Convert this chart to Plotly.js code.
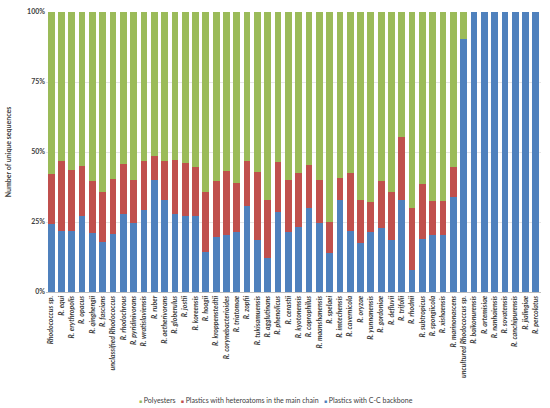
<!DOCTYPE html>
<html>
<head>
<meta charset="utf-8">
<script src="https://cdn.plot.ly/plotly-3.0.1.min.js"></script>
<style>
  html, body { margin: 0; padding: 0; background: #fff; }
  #chart { width: 550px; height: 408px; }
</style>
</head>
<body>
<div id="chart"></div>
<script>
// species, left to right
const SPECIES = [
  'Rhodococcus sp.', 'R. equi', 'R. erythropolis', 'R. opacus', 'R. qinghengii',
  'R. fascians', 'unclassified Rhodococcus', 'R. rhodochrous', 'R. pyridinivorans',
  'R. wratislaviensis', 'R. ruber', 'R. aetherivorans', 'R. globerulus', 'R. jostii',
  'R. koreensis', 'R. hoagii', 'R. kroppenstedtii', 'R. corynebacterioides',
  'R. triatomae', 'R. zopfii', 'R. tukisamuensis', 'R. agglutinans', 'R. phenolicus',
  'R. cerastii', 'R. kyotonensis', 'R. coprophilus', 'R. maanshanensis', 'R. spelaei',
  'R. imtechensis', 'R. cavernicola', 'R. oryzae', 'R. yunnanensis', 'R. gordoniae',
  'R. defluvii', 'R. trifolii', 'R. rhodnii', 'R. subtropicus', 'R. spongiicola',
  'R. xishaensis', 'R. marinonascens', 'uncultured Rhodococcus sp.', 'R. baikonurensis',
  'R. artemisiae', 'R. nanhaiensis', 'R. sovatensis', 'R. canchipurensis',
  'R. jialingiae', 'R. percolatus'
];

// share of unique sequences, %
const CC_BACKBONE = [
  24.3, 21.8, 21.8, 27.3, 21.0, 17.9, 20.6, 28.0, 24.5, 29.4, 40.0, 32.9,
  27.7, 27.1, 27.0, 14.3, 19.6, 20.2, 21.5, 30.8, 18.6, 12.3, 28.6, 21.3,
  23.1, 30.1, 24.6, 13.8, 32.9, 21.7, 17.4, 21.3, 22.7, 18.6, 32.9, 7.9,
  19.0, 20.2, 20.2, 33.9, 90.2, 100, 100, 100, 100, 100, 100, 100
];
const HETEROATOMS = [
  17.7, 25.0, 21.8, 17.6, 18.8, 17.7, 19.6, 17.7, 15.5, 17.4, 8.6, 13.9,
  19.6, 19.0, 17.5, 21.5, 19.9, 22.9, 17.5, 16.0, 24.1, 20.6, 17.7, 18.8,
  19.3, 15.3, 15.3, 11.1, 7.7, 20.8, 15.5, 10.7, 17.1, 17.2, 22.3, 22.1,
  19.6, 12.4, 12.4, 10.7, 0, 0, 0, 0, 0, 0, 0, 0
];
const POLYESTERS = [
  58.0, 53.2, 56.4, 55.1, 60.2, 64.4, 59.8, 54.3, 60.0, 53.2, 51.4, 53.2,
  52.7, 53.9, 55.5, 64.2, 60.5, 56.9, 61.0, 53.2, 57.3, 67.1, 53.7, 59.9,
  57.6, 54.6, 60.1, 75.1, 59.4, 57.5, 67.1, 68.0, 60.2, 64.2, 44.8, 70.0,
  61.4, 67.4, 67.4, 55.4, 9.8, 0, 0, 0, 0, 0, 0, 0
];

const FONT = 'Lato, "Open Sans", sans-serif';
const TEXT = '#404040';

// bottom to top in the stack
const SERIES = [
  { name: 'Plastics with C-C backbone', values: CC_BACKBONE, color: '#4f81bd' },
  { name: 'Plastics with heteroatoms in the main chain', values: HETEROATOMS, color: '#c0504d' },
  { name: 'Polyesters', values: POLYESTERS, color: '#9bbb59' },
];

const traces = SERIES.map(s => ({
  type: 'bar',
  name: s.name,
  x: SPECIES,
  y: s.values,
  marker: { color: s.color, line: { width: 0 } },
  hovertemplate: '<b>%{x}</b><br>' + s.name + ': %{y:.1f}%<extra></extra>',
}));

// plotly's legend swatches are far bigger than Excel's, so build the key as text
const legendText = SERIES.slice().reverse()
  .map(s => `<span style="color:${s.color};font-size:5px">■</span> ${s.name}`)
  .join('\u00a0\u00a0\u00a0');

const layout = {
  width: 550, height: 408,
  barmode: 'stack',
  barnorm: 'percent',
  bargap: 0.35,
  paper_bgcolor: '#fff',
  plot_bgcolor: '#fff',
  font: { family: FONT, size: 7, color: TEXT },
  margin: { t: 12, r: 9, b: 116, l: 46 },
  showlegend: false,
  xaxis: {
    type: 'category',
    tickangle: -90,
    tickfont: { size: 7, style: 'italic', weight: 'bold', color: TEXT },
    showgrid: false,
    showline: true, linecolor: '#bfbfbf', linewidth: 1,
    ticks: '',
    fixedrange: true,
  },
  yaxis: {
    range: [0, 100],
    tickvals: [0, 25, 50, 75, 100],
    ticktext: ['0%', '25%', '50%', '75%', '100%'],
    tickfont: { size: 7, weight: 'bold', color: TEXT },
    showgrid: true, gridcolor: '#e6e6e6', gridwidth: 1,
    zeroline: false,
    showline: false,
    ticks: '',
    title: {
      text: 'Number of unique sequences',
      font: { size: 7, weight: 'bold', color: TEXT },
      standoff: 14,
    },
    fixedrange: true,
  },
  annotations: [{
    xref: 'paper', yref: 'paper',
    x: (276 - 46) / 495, xanchor: 'center',
    y: -(400 - 292) / 280, yanchor: 'middle',
    text: legendText,
    showarrow: false,
    font: { size: 7, color: TEXT },
  }],
};

Plotly.newPlot('chart', traces, layout, { displayModeBar: false, staticPlot: true });
</script>
</body>
</html>
